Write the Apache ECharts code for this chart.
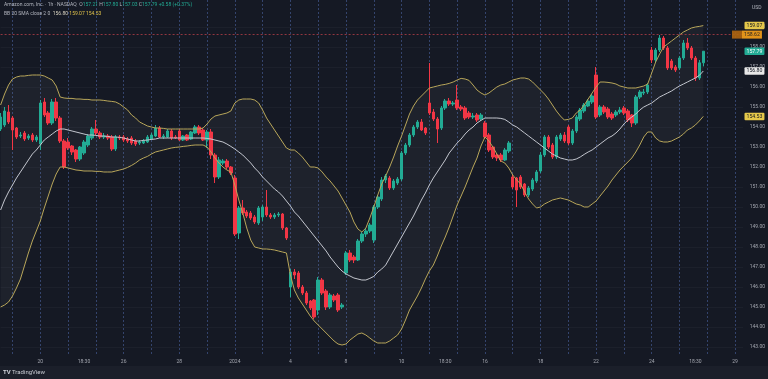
<!DOCTYPE html>
<html><head><meta charset="utf-8">
<script src="https://cdn.jsdelivr.net/npm/echarts@6/dist/echarts.min.js"></script>
<style>html,body{margin:0;padding:0;background:#151924;}#c{width:768px;height:379px;}</style>
</head><body><div id="c"></div>
<script>
// ---- time slots (1h candles, exchange time shown in UTC) ----
const tradingDays = ['12-18','12-19','12-20','12-21','12-22','12-26','12-27','12-28','12-29',
  '01-02','01-03','01-04','01-05','01-08','01-09','01-10','01-11','01-12',
  '01-16','01-17','01-18','01-19','01-22','01-23','01-24','01-25','01-26','01-29'];
const sessionHours = ['14:30','15:30','16:30','17:30','18:30','19:30','20:30'];
const firstSlot = '12-18 18:30';
const slotCount = 188;
const timeTicks = [['12-20 14:30','20'],['12-21 18:30','18:30'],['12-26 14:30','26'],['12-28 14:30','28'],
  ['01-02 14:30','2024'],['01-04 14:30','4'],['01-08 14:30','8'],['01-10 14:30','10'],['01-11 18:30','18:30'],
  ['01-16 14:30','16'],['01-18 14:30','18'],['01-22 14:30','22'],['01-24 14:30','24'],['01-25 18:30','18:30'],['01-29 14:30','29']];
const priceTicks = [143,144,145,146,147,148,149,150,151,152,153,154,155,156,157,158,159];
const alertLevel = 158.62;

// ---- AMZN 1h OHLC ----
const opens = [153.90,154.10,154.75,
 154.45,153.95,153.55,153.70,153.45,153.60,153.35,
 153.15,155.25,154.70,154.20,155.25,154.45,153.30,
 153.25,153.05,152.85,152.40,152.70,153.10,153.45,
 153.90,153.70,153.50,153.55,153.50,152.90,153.50,
 153.50,153.40,153.45,153.30,153.20,153.20,153.25,
 153.40,153.55,153.95,153.50,153.50,153.80,153.50,
 153.80,153.35,153.60,153.40,153.70,154.00,153.85,
 153.35,153.75,152.60,151.50,152.20,152.30,152.00,
 151.45,148.70,149.95,149.75,149.70,149.50,149.20,
 149.50,150.00,149.60,149.50,149.60,149.65,148.95,
 146.00,146.75,146.70,146.00,145.70,145.30,145.35,
 144.85,146.35,145.80,145.00,145.55,145.60,145.00,
 146.70,147.70,147.50,147.35,148.30,148.65,148.80,
 148.35,150.00,150.40,151.35,151.45,150.95,151.20,
 151.40,152.70,153.10,153.60,154.00,154.25,153.95,
 155.20,154.75,154.40,153.95,154.95,155.30,155.15,
 155.35,155.00,154.95,154.70,154.50,154.60,154.40,
 154.20,153.60,153.00,152.60,152.60,152.35,152.80,
 151.50,151.45,151.50,151.15,150.60,150.90,151.30,
 151.80,152.60,153.50,153.10,152.50,153.40,153.60,
 154.00,153.20,153.80,154.40,154.80,155.05,155.25,
 156.60,154.60,155.00,154.90,154.65,154.60,154.75,
 154.95,154.80,154.60,154.20,155.50,155.70,155.75,
 157.85,157.35,157.85,158.45,157.95,157.30,157.00,
 156.95,157.45,158.20,157.95,157.45,156.45,157.21];
const closes = [154.50,154.80,154.25,
 153.85,153.50,153.60,153.40,153.55,153.35,153.50,
 155.20,154.60,154.20,155.25,154.45,153.30,152.00,
 152.95,152.75,152.40,153.00,153.25,153.55,153.90,
 153.70,153.50,153.55,153.45,152.90,153.50,153.45,
 153.35,153.30,153.20,153.15,153.25,153.30,153.50,
 153.60,153.95,153.50,153.55,153.80,153.45,153.45,
 153.35,153.55,153.35,153.75,154.00,153.70,153.35,
 153.75,152.60,151.50,152.35,152.30,152.00,151.70,
 148.65,149.95,149.70,149.55,149.45,149.25,149.95,
 150.00,149.60,149.50,149.60,149.65,148.95,148.45,
 146.75,146.60,146.00,145.70,145.20,144.95,144.50,
 146.35,145.70,145.00,145.60,145.35,144.85,145.10,
 147.70,147.35,147.35,148.30,148.65,148.80,149.10,
 150.00,150.50,151.35,151.55,150.95,151.30,151.40,
 152.70,153.10,153.60,154.00,154.25,153.85,153.70,
 154.70,154.40,153.90,154.95,155.30,155.15,155.20,
 154.95,154.90,154.45,154.50,154.55,154.35,154.60,
 153.50,152.85,152.50,152.45,152.35,152.85,153.20,
 151.00,150.85,151.00,150.60,150.95,151.35,151.75,
 152.60,153.50,153.00,152.50,153.50,153.60,153.30,
 153.20,153.80,154.50,154.85,155.10,155.30,155.55,
 154.50,155.00,154.75,154.50,154.45,154.75,154.85,
 154.70,154.35,154.20,155.50,155.75,155.75,156.10,
 157.35,157.85,158.45,157.95,156.95,156.95,156.85,
 157.45,158.20,157.95,157.45,156.45,157.21,157.79];
const lows = [153.80,154.00,154.15,
 152.85,153.40,153.45,153.30,153.35,153.25,153.25,
 152.85,154.50,154.10,154.10,154.30,153.20,151.90,
 152.85,152.60,152.25,152.30,152.60,153.00,153.35,
 153.60,153.40,153.40,153.35,152.80,152.80,153.35,
 153.25,153.20,153.10,153.05,153.10,153.15,153.20,
 153.35,153.50,153.45,153.40,153.45,153.35,153.40,
 153.30,153.30,153.30,153.35,153.65,153.60,153.30,
 152.95,152.40,151.20,151.40,152.10,151.90,151.60,
 148.55,148.40,149.60,149.45,149.35,149.15,149.10,
 149.30,149.50,149.40,149.40,149.50,148.85,148.35,
 145.50,146.40,145.90,145.60,145.10,144.85,144.40,
 144.60,145.60,144.85,144.90,145.25,144.75,144.90,
 146.60,147.25,147.20,147.30,148.20,148.50,148.70,
 148.20,149.90,150.30,151.20,150.85,150.85,151.10,
 151.30,152.60,153.00,153.50,153.90,153.80,153.60,
 154.60,154.30,153.20,153.85,154.85,155.05,155.05,
 154.85,154.80,154.35,154.40,154.40,154.25,154.30,
 153.40,152.75,152.40,152.30,152.25,152.30,152.70,
 150.90,150.00,150.90,150.50,150.50,150.80,151.20,
 151.70,152.50,152.90,152.40,152.40,153.30,153.20,
 153.10,153.10,153.70,154.30,154.70,155.00,155.15,
 154.40,154.50,154.65,154.40,154.35,154.50,154.65,
 154.60,154.25,154.00,154.10,155.40,155.60,155.65,
 157.20,157.25,157.75,157.85,156.85,156.85,156.75,
 156.85,157.35,157.85,157.35,156.30,156.35,157.03];
const highs = [154.70,155.00,155.10,
 154.55,154.00,153.75,153.80,153.65,153.70,153.60,
 155.35,155.45,154.80,155.40,155.45,154.55,153.40,
 153.45,153.10,152.90,153.05,153.35,153.65,154.00,
 154.35,153.80,153.70,153.65,153.60,153.60,153.60,
 153.60,153.50,153.55,153.40,153.35,153.40,153.60,
 153.70,154.10,154.05,153.65,153.90,153.90,153.60,
 153.90,153.60,153.65,153.80,154.10,154.10,153.95,
 153.85,153.90,152.70,152.50,152.40,152.40,152.05,
 151.60,150.05,150.35,149.85,149.80,149.60,150.05,
 150.10,150.85,149.70,149.70,149.75,149.70,149.00,
 146.90,146.90,146.80,146.10,145.80,145.35,145.40,
 146.50,146.45,145.90,145.70,145.65,145.70,145.20,
 147.80,147.85,147.60,148.40,148.75,148.95,149.20,
 150.10,150.60,151.50,151.65,151.55,151.40,151.50,
 152.80,153.20,153.70,154.10,154.35,154.40,154.00,
 157.20,154.90,154.50,155.05,155.40,155.45,155.30,
 156.10,155.10,155.05,154.80,154.70,154.70,154.70,
 154.30,153.70,153.05,152.70,152.70,152.95,153.30,
 151.60,151.50,151.60,151.20,151.05,151.45,151.85,
 152.75,153.60,153.60,153.20,153.60,153.70,153.75,
 154.10,153.90,154.60,154.95,155.20,155.40,155.65,
 157.00,155.10,155.10,155.00,154.75,154.85,155.00,
 155.05,154.90,154.65,155.60,155.85,155.90,156.20,
 158.00,157.95,158.60,158.55,158.05,157.40,157.10,
 157.55,158.35,158.45,158.05,157.55,157.35,157.80];

// ---- Bollinger Bands (20, SMA, 2) ----
const bbUpper = [155.10,155.65,156.10,
 156.40,156.50,156.55,156.55,156.58,156.60,156.60,
 156.60,156.55,156.45,156.35,156.05,155.50,155.45,
 155.43,155.43,155.40,155.40,155.38,155.38,155.35,
 155.35,155.35,155.33,155.30,155.28,155.25,155.15,
 155.00,154.85,154.60,154.45,154.25,154.15,154.05,
 154.00,153.95,153.95,153.93,153.90,153.90,153.90,
 153.90,153.90,153.90,153.90,153.90,153.90,153.95,
 154.15,154.40,154.55,154.60,154.65,154.70,154.80,
 155.20,155.35,155.40,155.40,155.40,155.35,155.20,
 154.85,154.45,154.15,153.85,153.55,153.25,152.95,
 152.85,152.85,152.70,152.50,152.25,152.00,152.00,
 151.95,151.75,151.50,151.30,151.05,150.80,150.45,
 150.10,149.75,149.25,148.90,148.75,148.95,149.45,
 150.00,150.60,151.15,151.55,152.00,152.50,153.05,
 153.55,154.10,154.65,155.05,155.35,155.55,155.75,
 155.95,156.00,156.05,156.10,156.13,156.18,156.25,
 156.35,156.43,156.40,156.33,156.10,155.85,155.70,
 155.60,155.70,155.85,156.00,156.10,156.15,156.25,
 156.35,156.40,156.45,156.45,156.40,156.25,156.05,
 155.85,155.65,155.40,155.10,154.80,154.55,154.35,
 154.38,154.45,154.70,154.85,155.10,155.40,155.70,
 156.00,156.25,156.25,156.23,156.20,156.15,156.05,
 156.00,155.95,155.95,155.95,156.00,156.05,156.15,
 156.70,157.25,157.65,158.00,158.15,158.30,158.45,
 158.60,158.75,158.85,158.95,159.00,159.03,159.07];
const bbBasis = [149.85,150.35,150.75,
 151.10,151.45,151.75,152.05,152.35,152.65,152.85,
 153.10,153.35,153.50,153.65,153.80,153.90,153.90,
 153.85,153.80,153.75,153.70,153.65,153.60,153.60,
 153.58,153.55,153.55,153.53,153.50,153.50,153.48,
 153.45,153.40,153.35,153.30,153.30,153.33,153.35,
 153.38,153.40,153.45,153.45,153.45,153.45,153.45,
 153.45,153.45,153.45,153.45,153.45,153.45,153.45,
 153.43,153.40,153.35,153.30,153.25,153.15,153.03,
 152.90,152.75,152.60,152.40,152.20,151.95,151.75,
 151.50,151.30,151.10,150.90,150.75,150.55,150.30,
 150.05,149.75,149.55,149.30,149.05,148.80,148.55,
 148.30,148.05,147.80,147.50,147.25,147.00,146.80,
 146.65,146.55,146.45,146.40,146.35,146.35,146.43,
 146.53,146.75,146.90,147.10,147.45,147.80,148.15,
 148.50,148.85,149.20,149.55,149.95,150.35,150.70,
 151.10,151.45,151.75,152.05,152.35,152.70,152.95,
 153.20,153.40,153.65,153.85,154.00,154.20,154.33,
 154.45,154.45,154.45,154.45,154.43,154.38,154.25,
 154.10,154.00,153.85,153.70,153.55,153.40,153.25,
 153.10,152.95,152.80,152.65,152.55,152.45,152.40,
 152.35,152.35,152.40,152.50,152.63,152.75,152.85,
 153.00,153.15,153.30,153.45,153.55,153.70,153.90,
 154.15,154.35,154.50,154.65,154.85,155.00,155.10,
 155.20,155.35,155.50,155.60,155.70,155.80,155.93,
 156.05,156.15,156.25,156.35,156.45,156.58,156.80];
const bbLower = [145.00,145.10,145.25,
 145.55,145.95,146.40,147.05,147.70,148.30,148.80,
 149.30,149.95,150.55,151.15,151.65,152.00,152.00,
 151.95,151.90,151.85,151.83,151.80,151.80,151.80,
 151.78,151.78,151.75,151.75,151.75,151.80,151.85,
 151.90,151.98,152.08,152.20,152.35,152.45,152.53,
 152.65,152.75,152.80,152.85,152.90,152.95,152.98,
 153.00,153.03,153.05,153.08,153.10,153.10,153.10,
 153.00,152.75,152.45,152.20,152.00,151.85,151.75,
 151.10,150.35,149.70,148.95,148.35,148.00,147.95,
 147.90,147.90,147.88,147.85,147.80,147.75,147.70,
 146.60,145.85,145.45,145.15,144.85,144.55,144.30,
 144.10,143.90,143.70,143.50,143.30,143.15,143.10,
 143.15,143.35,143.50,143.65,143.70,143.60,143.45,
 143.30,143.20,143.20,143.20,143.30,143.45,143.60,
 143.90,144.35,144.85,145.20,145.55,145.95,146.40,
 146.80,147.10,147.55,148.05,148.50,149.00,149.55,
 150.10,150.55,151.00,151.50,152.00,152.45,153.05,
 153.50,153.30,153.00,152.65,152.30,152.20,151.95,
 151.60,151.35,151.15,150.75,150.40,150.15,149.95,
 150.00,150.15,150.25,150.35,150.40,150.45,150.40,
 150.35,150.25,150.15,150.10,150.00,150.00,150.15,
 150.30,150.55,150.80,151.05,151.35,151.60,151.85,
 152.05,152.25,152.45,152.75,153.10,153.50,153.75,
 153.75,153.45,153.30,153.25,153.25,153.30,153.40,
 153.50,153.65,153.85,153.95,154.10,154.30,154.53];

// ---- build what the library needs ----
const allSlots = [];
tradingDays.forEach(d => sessionHours.forEach(h => allSlots.push(d + ' ' + h)));
const start = allSlots.indexOf(firstSlot);
const categories = allSlots.slice(start, start + slotCount);
const tickMap = {};
timeTicks.forEach(t => { tickMap[t[0]] = t[1]; });
const ohlc = opens.map((o, i) => [o, closes[i], lows[i], highs[i]]);
const bandWidth = bbUpper.map((u, i) => +(u - bbLower[i]).toFixed(2));
const n = closes.length;
const lastO = opens[n-1], lastH = highs[n-1], lastL = lows[n-1], lastC = closes[n-1];
const chg = lastC - closes[n-2];
const chgPct = chg / closes[n-2] * 100;
const UP = '#22ab94', DOWN = '#f23645';
const FONT = 'Roboto';
const f2 = v => v.toFixed(2);
const HIDDEN = {color: 'rgba(0,0,0,0)', width: 0};

const tag = (bg, fg) => ({
  show: true, position: 'end', distance: 1.5, fontSize: 5.2, fontFamily: FONT,
  color: fg, backgroundColor: bg, padding: [1.5, 2, 1, 2], borderRadius: 1,
  formatter: p => f2(p.value)
});
const alertTag = {
  show: true, position: 'end', distance: -11, fontFamily: FONT,
  formatter: p => '{a| }{b|' + f2(p.value) + '}',
  rich: {
    a: {width: 10, height: 8, backgroundColor: '#b0660f', fontSize: 5, color: '#131722', align: 'center'},
    b: {height: 8, backgroundColor: '#f7a11a', fontSize: 5.2, fontFamily: FONT, color: '#131722', padding: [0, 2, 0, 2]}
  }
};

const chart = echarts.init(document.getElementById('c'), null, {renderer: 'canvas'});
chart.setOption({
  animation: false,
  backgroundColor: '#151924',
  title: [
    {left: 4, top: 2, padding: 0,
     text: 'Amazon.com, Inc. · 1h · NASDAQ  {l|O}{v|' + f2(lastO) + '} {l|H}{v|' + f2(lastH) + '} {l|L}{v|' + f2(lastL) + '} {l|C}{v|' + f2(lastC) + '} {v|' + (chg >= 0 ? '+' : '') + f2(chg) + ' (' + (chg >= 0 ? '+' : '') + f2(chgPct) + '%)}',
     textStyle: {fontSize: 5, fontFamily: FONT, fontWeight: 'normal', color: '#b2b5be',
       rich: {l: {fontSize: 5, fontFamily: FONT, color: '#b2b5be'}, v: {fontSize: 5, fontFamily: FONT, color: UP}}}},
    {left: 4, top: 11, padding: 0,
     text: 'BB 20 SMA close 2 0  {b|' + f2(bbBasis[n-1]) + '} {y|' + f2(bbUpper[n-1]) + '} {y|' + f2(bbLower[n-1]) + '}',
     textStyle: {fontSize: 5, fontFamily: FONT, fontWeight: 'normal', color: '#b2b5be',
       rich: {b: {fontSize: 5, fontFamily: FONT, color: '#d8d2c0'}, y: {fontSize: 5, fontFamily: FONT, color: '#e0c24a'}}}}
  ],
  grid: {left: 0.6, right: 24.8, top: 0, bottom: 24, containLabel: false},
  xAxis: {
    type: 'category', data: categories, boundaryGap: false,
    axisLine: {show: false}, axisTick: {show: false},
    axisLabel: {
      interval: (i, v) => tickMap[v] !== undefined,
      formatter: v => tickMap[v] || '',
      color: '#a3a6af', fontSize: 5, fontFamily: FONT, margin: 4
    },
    splitLine: {show: true, interval: (i, v) => v.endsWith('14:30'),
      lineStyle: {color: 'rgba(78,104,170,0.55)', type: [2, 2], width: 1}}
  },
  yAxis: {
    type: 'value', position: 'right', min: 142.6, max: 160.35, scale: true,
    axisLine: {show: false},
    axisTick: {show: false, customValues: priceTicks},
    axisLabel: {customValues: priceTicks, formatter: v => f2(v), color: '#a3a6af', fontSize: 5, fontFamily: FONT, align: 'right', margin: 22},
    splitLine: {show: true, lineStyle: {color: 'rgba(42,46,57,0.35)', width: 1}}
  },
  series: [
    {name: 'bbBase', type: 'line', data: bbLower, stack: 'bb', symbol: 'none', silent: true,
     lineStyle: {opacity: 0}, z: 1},
    {name: 'bbFill', type: 'line', data: bandWidth, stack: 'bb', symbol: 'none', silent: true,
     lineStyle: {opacity: 0}, areaStyle: {color: 'rgba(255,255,255,0.055)'}, z: 1},
    {name: 'price', type: 'candlestick', data: ohlc, barWidth: 3, z: 3,
     itemStyle: {color: UP, color0: DOWN, borderColor: UP, borderColor0: DOWN, borderWidth: 1}},
    {name: 'upper', type: 'line', data: bbUpper, symbol: 'none', silent: true, z: 4,
     lineStyle: {color: '#b8a65a', width: 1}},
    {name: 'lower', type: 'line', data: bbLower, symbol: 'none', silent: true, z: 4,
     lineStyle: {color: '#b8a65a', width: 1}},
    {name: 'basis', type: 'line', data: bbBasis, symbol: 'none', silent: true, z: 4,
     lineStyle: {color: '#c3c6ce', width: 1},
     markLine: {
       symbol: ['none', 'none'], silent: true, animation: false, z: 6,
       data: [
         {yAxis: alertLevel, lineStyle: {color: '#a03a44', type: [2, 2], width: 1, opacity: 0.9}, label: alertTag},
         {yAxis: bbUpper[n-1], lineStyle: HIDDEN, label: tag('#e5c84a', '#131722')},
         {yAxis: lastC, lineStyle: HIDDEN, label: tag(UP, '#ffffff')},
         {yAxis: bbBasis[n-1], lineStyle: HIDDEN, label: tag('#e8e8e8', '#131722')},
         {yAxis: bbLower[n-1], lineStyle: HIDDEN, label: tag('#e5c84a', '#131722')}
       ]
     }}
  ],
  graphic: [
    {type: 'rect', left: 0, top: 366, silent: true, shape: {width: 768, height: 13}, style: {fill: '#1b1f2a'}},
    {type: 'text', left: 3, top: 369, silent: true, style: {text: 'TV', fill: '#d1d4dc', font: 'bold 6px Roboto'}},
    {type: 'text', left: 12, top: 369, silent: true, style: {text: 'TradingView', fill: '#c9ccd4', font: '6px Roboto'}},
    {type: 'text', left: 752, top: 5, silent: true, style: {text: 'USD', fill: '#b2b5be', font: '5px Roboto'}}
  ]
});
</script></body></html>
